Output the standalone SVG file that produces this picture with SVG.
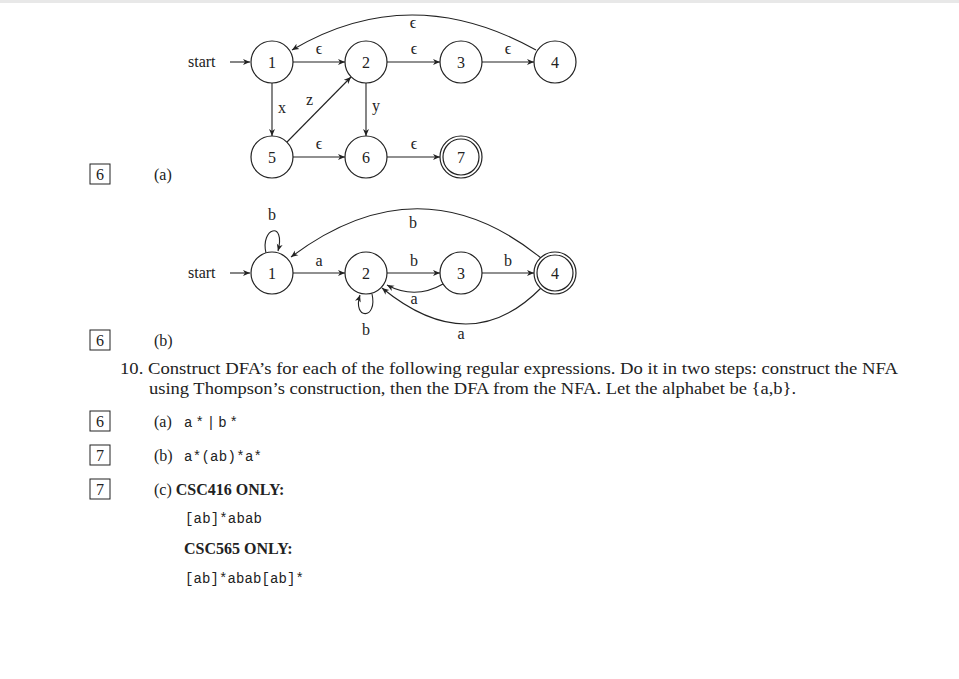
<svg xmlns="http://www.w3.org/2000/svg" width="959" height="679" viewBox="0 0 959 679">
<style>
text{font-family:"Liberation Serif",serif;font-size:16px;fill:#222}
.n{text-anchor:middle}
.m{font-family:"Liberation Mono",monospace;font-size:14px}
.c{fill:#fff;stroke:#222;stroke-width:1.2}
.e{fill:none;stroke:#222;stroke-width:1.1;marker-end:url(#ah)}
.b{fill:none;stroke:#222;stroke-width:1}
</style>
<defs><marker id="ah" markerWidth="8" markerHeight="8" refX="7" refY="4" orient="auto" markerUnits="userSpaceOnUse"><path d="M0,1 L7,4 L0,7 L2,4z" fill="#222"/></marker></defs>
<rect width="959" height="679" fill="#fff"/>
<rect x="0" y="0" width="959" height="3" fill="#e8e8e8"/>
<g id="connectors">
<path class="e" d="M230,62 H250"/>
<path class="e" d="M293,62 H345"/><text x="319" y="54" class="n" font-size="12">ϵ</text>
<path class="e" d="M387,62 H440"/><text x="414" y="54" class="n" font-size="12">ϵ</text>
<path class="e" d="M482,62 H534"/><text x="508" y="54" class="n" font-size="12">ϵ</text>
<path class="e" d="M536,50 Q410,-20 292,50"/><text x="413" y="28" class="n" font-size="12">ϵ</text>
<path class="e" d="M272,83 V136"/><text x="278" y="113">x</text>
<path class="e" d="M287,142 L351,77"/><text x="306" y="105">z</text>
<path class="e" d="M366,83 V136"/><text x="372" y="111">y</text>
<path class="e" d="M293,157 H345"/><text x="319" y="149" class="n" font-size="12">ϵ</text>
<path class="e" d="M387,157 H440"/><text x="414" y="149" class="n" font-size="12">ϵ</text>
<path class="e" d="M230,273 H250"/>
<path class="e" d="M266,253 C260,228 286,220 278,251"/><text x="272" y="220" class="n">b</text>
<path class="e" d="M293,273 H345"/><text x="319" y="266" class="n">a</text>
<path class="e" d="M387,273 H440"/><text x="414" y="266" class="n">b</text>
<path class="e" d="M482,273 H534"/><text x="508" y="266" class="n">b</text>
<path class="e" d="M541,258 Q420,160 291,257"/><text x="413" y="228" class="n">b</text>
<path class="e" d="M443,284 Q415,300 387,285"/><text x="414" y="304" class="n">a</text>
<path class="e" d="M541,288 Q470,360 382,288"/><text x="461" y="339" class="n">a</text>
<path class="e" d="M372,294 C378,320 352,320 360,295"/><text x="366" y="335" class="n">b</text>
</g>
<text x="188" y="67">start</text><text x="188" y="278">start</text>
<g id="a1"><circle class="c" cx="272" cy="62" r="21"/><text x="272" y="68" class="n">1</text></g>
<g id="a2"><circle class="c" cx="366" cy="62" r="21"/><text x="366" y="68" class="n">2</text></g>
<g id="a3"><circle class="c" cx="461" cy="62" r="21"/><text x="461" y="68" class="n">3</text></g>
<g id="a4"><circle class="c" cx="555" cy="62" r="21"/><text x="555" y="68" class="n">4</text></g>
<g id="a5"><circle class="c" cx="272" cy="157" r="21"/><text x="272" y="163" class="n">5</text></g>
<g id="a6"><circle class="c" cx="366" cy="157" r="21"/><text x="366" y="163" class="n">6</text></g>
<g id="a7"><circle class="c" cx="461" cy="157" r="21"/><circle class="c" cx="461" cy="157" r="18"/><text x="461" y="163" class="n">7</text></g>
<g id="b1"><circle class="c" cx="272" cy="273" r="21"/><text x="272" y="279" class="n">1</text></g>
<g id="b2"><circle class="c" cx="366" cy="273" r="21"/><text x="366" y="279" class="n">2</text></g>
<g id="b3"><circle class="c" cx="461" cy="273" r="21"/><text x="461" y="279" class="n">3</text></g>
<g id="b4"><circle class="c" cx="555" cy="273" r="21"/><circle class="c" cx="555" cy="273" r="18"/><text x="555" y="279" class="n">4</text></g>
<rect class="b" x="90" y="164" width="20" height="20"/><text x="100" y="180" class="n">6</text><text x="154" y="180">(a)</text>
<rect class="b" x="90" y="330" width="20" height="20"/><text x="100" y="346" class="n">6</text><text x="154" y="346">(b)</text>
<text x="120" y="374" textLength="778" lengthAdjust="spacingAndGlyphs">10. Construct DFA’s for each of the following regular expressions. Do it in two steps: construct the NFA</text>
<text x="149" y="394" textLength="647" lengthAdjust="spacingAndGlyphs">using Thompson’s construction, then the DFA from the NFA. Let the alphabet be {a,b}.</text>
<rect class="b" x="90" y="411" width="20" height="20"/><text x="100" y="427" class="n">6</text><text x="154" y="427">(a)</text><text x="184" y="427" class="m" textLength="54">a*|b*</text>
<rect class="b" x="90" y="445" width="20" height="20"/><text x="100" y="461" class="n">7</text><text x="154" y="461">(b)</text><text x="184" y="461" class="m" textLength="78">a*(ab)*a*</text>
<rect class="b" x="90" y="479" width="20" height="20"/><text x="100" y="495" class="n">7</text><text x="154" y="495">(c) <tspan font-weight="bold">CSC416 ONLY:</tspan></text>
<text x="185" y="523" class="m" textLength="77">[ab]*abab</text>
<text x="184" y="554" font-weight="bold">CSC565 ONLY:</text>
<text x="185" y="583" class="m" textLength="119">[ab]*abab[ab]*</text>
</svg>
